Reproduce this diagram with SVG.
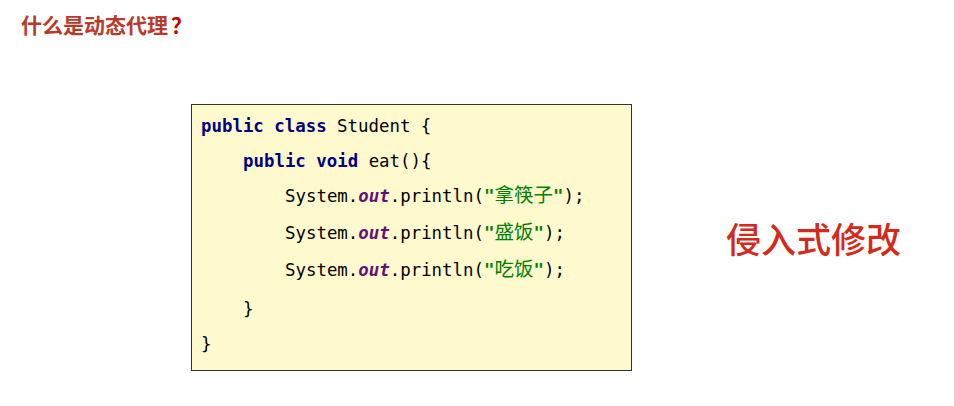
<svg xmlns="http://www.w3.org/2000/svg" width="954" height="406" viewBox="0 0 954 406">
<style>
.c{font-family:"DejaVu Sans Mono","Liberation Mono","Noto Sans CJK SC",monospace;font-size:17.4px;fill:#000}
.k{fill:#000080;font-weight:bold}
.o{fill:#660e7a;font-weight:bold;font-style:italic}
.s{fill:#008000;font-weight:bold}
.z{font-family:"Noto Sans CJK SC",sans-serif;font-weight:normal;font-size:19.5px}
</style>
<rect width="954" height="406" fill="#fff"/>
<text x="21" y="33" font-family="Noto Sans CJK SC,sans-serif" font-size="21" font-weight="bold" fill="#b83a2a">什么是动态代理<tspan fill="#c00000" dx="3">？</tspan></text>
<g id="code">
<rect x="191.5" y="104.5" width="440" height="266" fill="#fffacd" stroke="#333" stroke-width="1"/>
<text class="c" x="201" y="132"><tspan class="k">public class</tspan> Student {</text>
<text class="c" x="243" y="167"><tspan class="k">public void</tspan> eat(){</text>
<text class="c" x="285" y="202">System.<tspan class="o">out</tspan>.println(<tspan class="s">"<tspan class="z">拿筷子</tspan>"</tspan>);</text>
<text class="c" x="285" y="239">System.<tspan class="o">out</tspan>.println(<tspan class="s">"<tspan class="z">盛饭</tspan>"</tspan>);</text>
<text class="c" x="285" y="276">System.<tspan class="o">out</tspan>.println(<tspan class="s">"<tspan class="z">吃饭</tspan>"</tspan>);</text>
<text class="c" x="243" y="315">}</text>
<text class="c" x="201" y="350">}</text>
</g>
<text id="label" x="726" y="253" font-family="Noto Sans CJK SC,sans-serif" font-size="35" font-weight="500" fill="#d42a1a">侵入式修改</text>
</svg>
